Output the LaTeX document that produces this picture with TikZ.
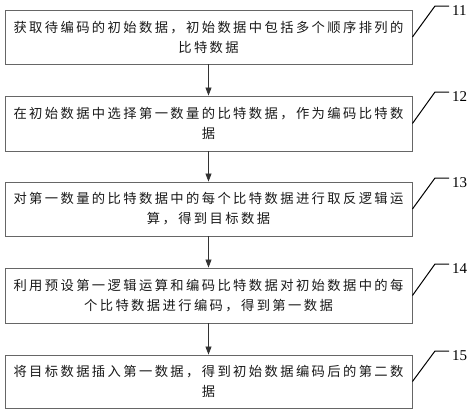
\documentclass[tikz,border=0pt]{standalone}
\usepackage{fontspec}
\setmainfont{Liberation Serif}
\newfontfamily\cjk[LetterSpace=18]{Noto Sans CJK SC}
\usetikzlibrary{arrows.meta}
\begin{document}
\begin{tikzpicture}[x=1pt,y=-1pt]
\useasboundingbox (0,0) rectangle (474,415);
\tikzset{
  stepbox/.style={draw=black!60, line width=0.9pt, minimum width=407pt, inner sep=0pt,
    align=center, text=black!90, font=\cjk\fontsize{13.3}{20}\selectfont},
  flow/.style={draw=black!80, line width=0.8pt, -{Triangle[length=8pt,width=6pt]}},
  labline/.style={draw=black, line width=1pt},
  lab/.style={anchor=west, inner sep=0pt, font=\fontsize{15}{15}\selectfont}
}
\node[stepbox, minimum height=54pt] (b1) at (208.5,37) {获取待编码的初始数据，初始数据中包括多个顺序排列的\\比特数据};
\node[stepbox, minimum height=55pt] (b2) at (208.5,123.5) {在初始数据中选择第一数量的比特数据，作为编码比特数\\据};
\node[stepbox, minimum height=54pt] (b3) at (208.5,209) {对第一数量的比特数据中的每个比特数据进行取反逻辑运\\算，得到目标数据};
\node[stepbox, minimum height=55pt] (b4) at (208.5,295.5) {利用预设第一逻辑运算和编码比特数据对初始数据中的每\\个比特数据进行编码，得到第一数据};
\node[stepbox, minimum height=53pt] (b5) at (208.5,381.5) {将目标数据插入第一数据，得到初始数据编码后的第二数\\据};
\draw[flow] (b1) -- (b2);
\draw[flow] (b2) -- (b3);
\draw[flow] (b3) -- (b4);
\draw[flow] (b4) -- (b5);
\foreach \i/\t in {1/6,2/92,3/178,4/264,5/351}{
  \coordinate (k\i) at (435,\t);
  \coordinate (e\i) at (449,\t);
  \node[lab] (l\i) at (452,\t+4.5) {1\i};
  \draw[labline] (b\i.east) -- (k\i) -- (e\i);
}
\end{tikzpicture}
\end{document}
